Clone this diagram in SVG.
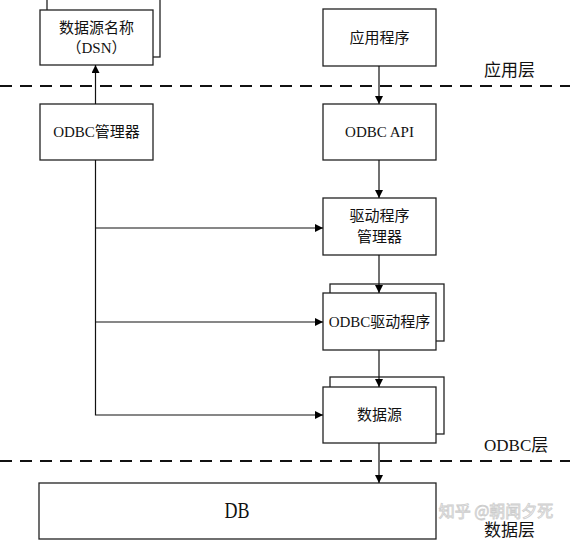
<svg xmlns="http://www.w3.org/2000/svg" width="570" height="541" viewBox="0 0 570 541">
<defs>
<marker id="ah" markerWidth="8" markerHeight="8" refX="8" refY="4" orient="auto" markerUnits="userSpaceOnUse">
<path d="M0,0 L8,4 L0,8 Z" fill="#000"/>
</marker>
<style>
.box{fill:#fff;stroke:#222;stroke-width:1.3}
.t{font-family:"Liberation Serif","Noto Sans CJK SC",serif;font-size:15px;fill:#111;text-anchor:middle;dominant-baseline:central}
.lay{font-family:"Liberation Serif","Noto Sans CJK SC",serif;font-size:17px;fill:#111;dominant-baseline:central}
.c{fill:none;stroke:#111;stroke-width:1.2}
.dash{fill:none;stroke:#111;stroke-width:1.8;stroke-dasharray:12 8}
</style>
</defs>
<rect width="570" height="541" fill="#fff"/>
<g id="layers">
<line class="dash" x1="0" y1="86" x2="570" y2="86"/>
<line class="dash" x1="0" y1="461" x2="570" y2="461"/>
<text class="lay" x="484" y="70">应用层</text>
<text class="lay" x="484" y="445">ODBC层</text>
<text class="lay" x="484" y="530">数据层</text>
</g>
<g id="dsn">
<rect class="box" x="47" y="-3" width="113" height="60"/>
<rect class="box" x="40" y="10" width="113" height="55"/>
<text class="t" x="96.5" y="28">数据源名称</text>
<text class="t" x="96.5" y="48">（DSN）</text>
</g>
<g id="odbc-manager">
<rect class="box" x="40" y="104" width="113" height="56"/>
<text class="t" x="96.5" y="132">ODBC管理器</text>
</g>
<g id="app">
<rect class="box" x="323" y="9" width="113" height="57"/>
<text class="t" x="379.5" y="37.5">应用程序</text>
</g>
<g id="odbc-api">
<rect class="box" x="323" y="104" width="113" height="56"/>
<text class="t" x="379.5" y="132">ODBC API</text>
</g>
<g id="driver-manager">
<rect class="box" x="323" y="198" width="113" height="57"/>
<text class="t" x="379.5" y="216">驱动程序</text>
<text class="t" x="379.5" y="237">管理器</text>
</g>
<g id="odbc-driver">
<rect class="box" x="330" y="284" width="114" height="57"/>
<rect class="box" x="323" y="293" width="113" height="57"/>
<text class="t" x="379.5" y="321.5">ODBC驱动程序</text>
</g>
<g id="datasource">
<rect class="box" x="330" y="377" width="114" height="57"/>
<rect class="box" x="323" y="387" width="113" height="56"/>
<text class="t" x="379.5" y="415">数据源</text>
</g>
<g id="db">
<rect class="box" x="39" y="483" width="397" height="56"/>
<text class="t" x="237" y="510" style="font-size:23px" textLength="25" lengthAdjust="spacingAndGlyphs">DB</text>
</g>
<g id="connectors">
<line class="c" x1="95.5" y1="104" x2="95.5" y2="65" marker-end="url(#ah)"/>
<line class="c" x1="379" y1="66" x2="379" y2="104" marker-end="url(#ah)"/>
<line class="c" x1="379" y1="160" x2="379" y2="198" marker-end="url(#ah)"/>
<line class="c" x1="379" y1="255" x2="379" y2="293" marker-end="url(#ah)"/>
<line class="c" x1="379" y1="350" x2="379" y2="387" marker-end="url(#ah)"/>
<line class="c" x1="379" y1="443" x2="379" y2="483" marker-end="url(#ah)"/>
<polyline class="c" points="95.5,160 95.5,415 323,415" marker-end="url(#ah)"/>
<line class="c" x1="95.5" y1="228" x2="323" y2="228" marker-end="url(#ah)"/>
<line class="c" x1="95.5" y1="322" x2="323" y2="322" marker-end="url(#ah)"/>
</g>
<g id="watermark">
<text x="496" y="510" style="font-family:'Noto Sans CJK SC',sans-serif;font-size:16px;fill:#fff;stroke:#c4c4c4;stroke-width:0.8;text-anchor:middle;dominant-baseline:central;opacity:0.85">知乎 @朝闻夕死</text>
</g>
</svg>
